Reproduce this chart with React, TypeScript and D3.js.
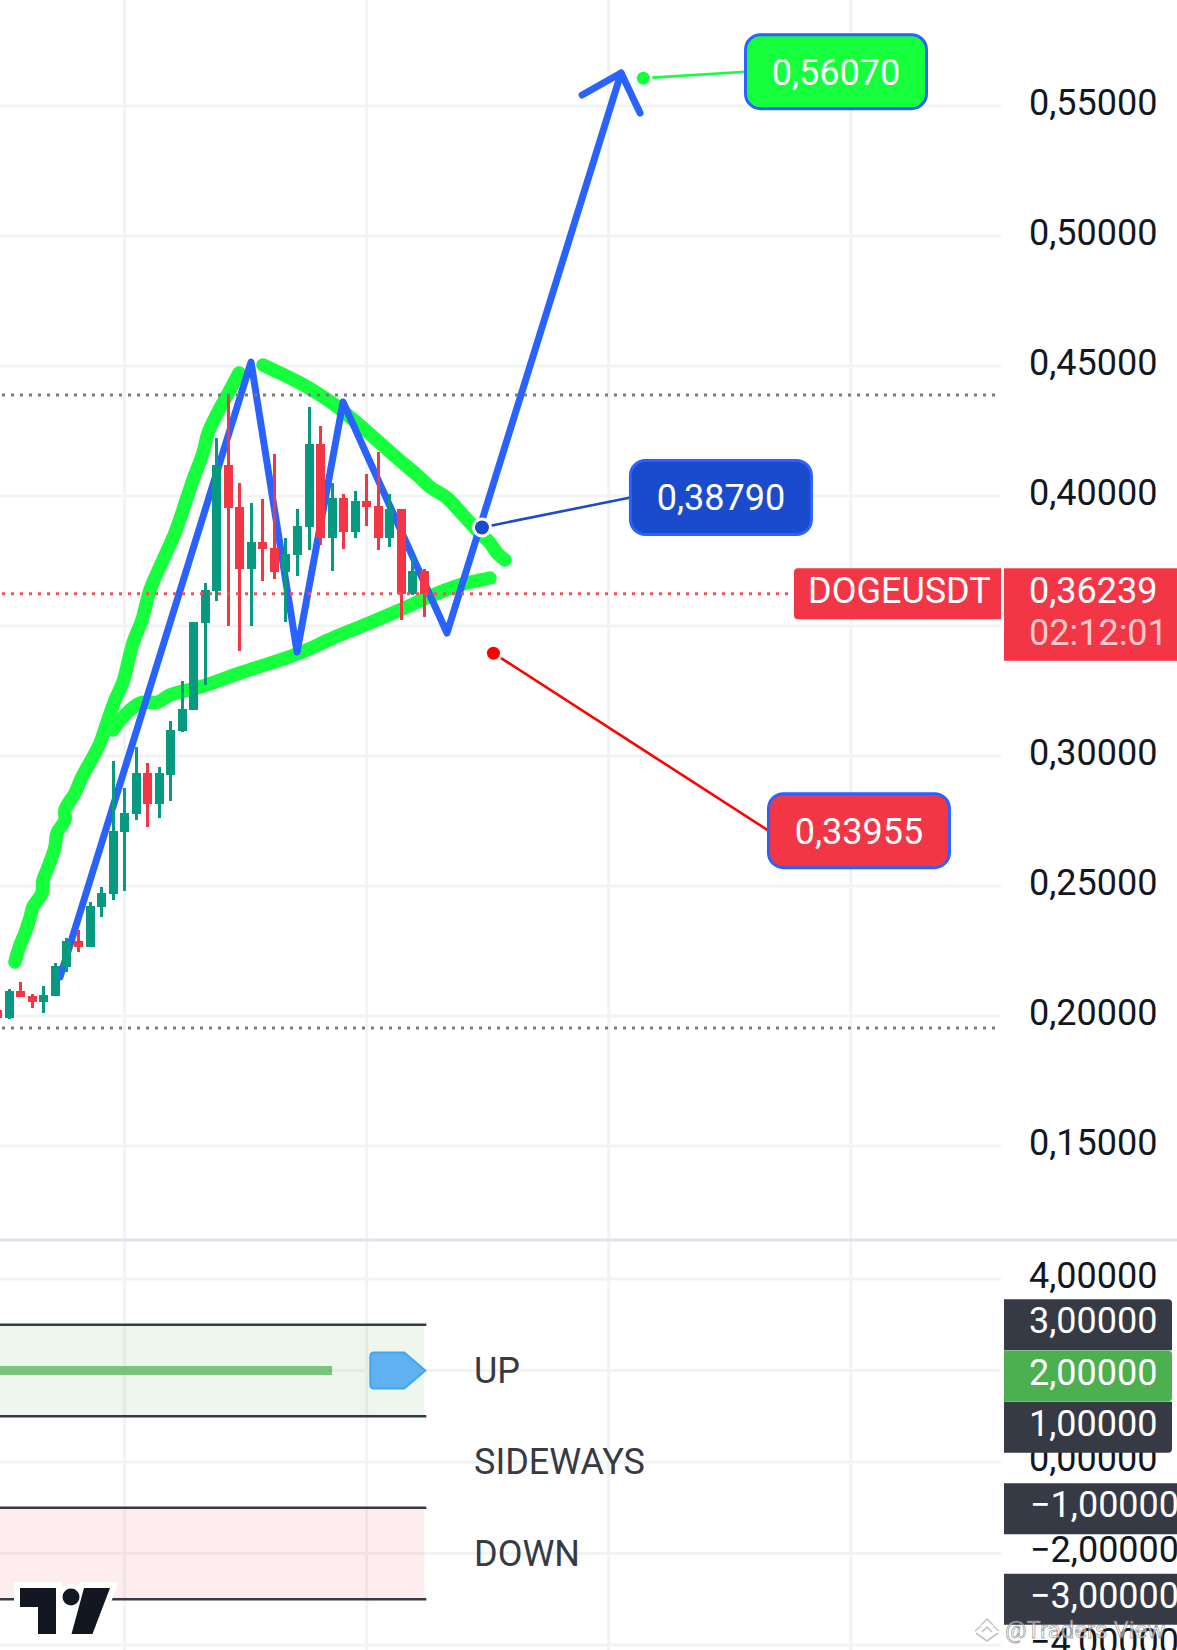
// DOGEUSDT chart with hand drawn triangle, zigzag forecast and trend pane
import * as d3 from "d3";

const opens = [0.20231, 0.19923, 0.20962, 0.20769, 0.20538, 0.20769, 0.21885, 0.22885, 0.22654, 0.24192, 0.24692, 0.27077, 0.27769, 0.29346, 0.28154, 0.29269, 0.30962, 0.31769, 0.35115, 0.36346, 0.41192, 0.39577, 0.37192, 0.38231, 0.38, 0.37077, 0.37731, 0.38808, 0.42, 0.38385, 0.39923, 0.38615, 0.39808, 0.39615, 0.38385, 0.395, 0.36231, 0.37115];
const highs = [0.20231, 0.21038, 0.21308, 0.20846, 0.21154, 0.22038, 0.23, 0.23308, 0.24385, 0.24962, 0.29808, 0.28769, 0.30346, 0.29731, 0.29577, 0.31346, 0.32885, 0.35154, 0.36654, 0.42231, 0.43885, 0.405, 0.39731, 0.39885, 0.41615, 0.38385, 0.395, 0.43423, 0.42692, 0.405, 0.40077, 0.40192, 0.40846, 0.41692, 0.40077, 0.395, 0.37692, 0.37192];
const lows = [0.19923, 0.19885, 0.20731, 0.20308, 0.20115, 0.20769, 0.21692, 0.22462, 0.22654, 0.23808, 0.24462, 0.24808, 0.27538, 0.27269, 0.27615, 0.28269, 0.30923, 0.31769, 0.32731, 0.35962, 0.35, 0.34038, 0.35, 0.36731, 0.36808, 0.35154, 0.36923, 0.37923, 0.38115, 0.37115, 0.37962, 0.38385, 0.38846, 0.37923, 0.38038, 0.35231, 0.36192, 0.35346];
const closes = [0.19923, 0.20962, 0.20731, 0.20538, 0.20808, 0.21923, 0.22885, 0.22654, 0.24231, 0.24731, 0.27115, 0.27808, 0.29346, 0.28154, 0.29346, 0.31, 0.31808, 0.35154, 0.36385, 0.41192, 0.39538, 0.37192, 0.38231, 0.37962, 0.37077, 0.37769, 0.38846, 0.42, 0.38385, 0.39923, 0.38615, 0.39808, 0.39577, 0.38385, 0.395, 0.36231, 0.37115, 0.36231];

const priceTicks = [0.55, 0.5, 0.45, 0.4, 0.35, 0.3, 0.25, 0.2, 0.15];
const trendTicks = [4, 0, -2, -4];
const trendGrid = [4, 2, 0, -2, -4];
const gridBars = [11, 32, 53, 74];
const lastPrice = 0.36239;
const dottedLevels = [0.43885, 0.19538];

// hand drawn overlays as [bar, price]
const greenRise: [number, number][] = [[1.49, 0.22077], [1.87, 0.22654], [2.36, 0.23192], [2.79, 0.23769], [3.05, 0.24192], [3.83, 0.24731], [3.92, 0.25231], [4.27, 0.25615], [4.96, 0.265], [5.14, 0.27038], [5.83, 0.27538], [5.83, 0.27923], [6.7, 0.28577], [7.3, 0.29192], [8.26, 0.29962], [8.87, 0.305], [9.47, 0.31269], [10.17, 0.32154], [10.86, 0.32846], [11.73, 0.34346], [12.51, 0.35231], [13.2, 0.36385], [14.33, 0.37538], [15.37, 0.38577], [15.98, 0.39346], [16.93, 0.40615], [17.8, 0.41654], [18.24, 0.42423], [19.1, 0.43231], [20.14, 0.44077], [20.93, 0.44731]];
const greenSupport: [number, number][] = [[9.99, 0.31], [10.86, 0.315], [12.34, 0.32038], [13.9, 0.32077], [14.94, 0.32346], [17.54, 0.32654], [21.01, 0.33192], [25.96, 0.33923], [29.08, 0.34538], [32.03, 0.35077], [34.89, 0.35615], [37.76, 0.36192], [40.1, 0.36577], [42.7, 0.36846]];
const greenResistance: [number, number][] = [[23.01, 0.45038], [24.48, 0.44731], [26.22, 0.44346], [27.69, 0.43962], [29.25, 0.435], [30.55, 0.43038], [31.68, 0.42615], [33.16, 0.42038], [34.63, 0.41462], [36.37, 0.40808], [37.5, 0.40346], [38.97, 0.39923], [40.36, 0.39269], [41.57, 0.38692], [42.7, 0.38192], [43.31, 0.37808], [44, 0.37538]];
const blueZigzag: [number, number][] = [[5.4, 0.215], [21.97, 0.45154], [25.96, 0.34], [29.95, 0.43615], [38.97, 0.34731], [54.07, 0.56269]];
const blueArrowHead: [number, number][] = [[50.69, 0.55423], [54.07, 0.56269], [55.72, 0.54731]];

const targetBars = [56, 42, 43];
const targetPrices = [0.5607, 0.3879, 0.33955];
const targetColors = ["#16ff3d", "#1a4bcc", "#f23645"];
const targetLines = ["#16ff3d", "#1a4bcc", "#ff0000"];

const trendTags = [3, 2, 1, -1, -3];
const trendTagColors = ["#363a45", "#4caf50", "#363a45", "#363a45", "#363a45"];
const trendTagShift = [0, 5.5, 11, 1, 0];
const trendLabels = ["UP", "SIDEWAYS", "DOWN"];
const trendLabelLevels = [2, 0, -2];
const trendValueEndBar = 29;

const WIDTH = 1177;
const HEIGHT = 1650;
const GRID_RIGHT = 1001;
const AXIS_X = 1029;
const FONT = "Roboto, sans-serif";
const FONT_SIZE = 36;
const BLUE = "#2962ff";
const UP = "#089981";
const DOWN = "#f23645";

const x = d3.scaleLinear().domain([0, 37]).range([-2.2, 424.3]);
const y = d3.scaleLinear().domain([0.15, 0.55]).range([1146, 106]);
const ySub = d3.scaleLinear().domain([-4, 4]).range([1645, 1279]);

const locale = d3.formatLocale({ decimal: ",", thousands: ".", grouping: [3], currency: ["", ""], minus: "\u2212" });
const fmt = locale.format(".5f");

const line = d3.line<[number, number]>().x((d) => x(d[0])).y((d) => y(d[1]));
const curve = d3.line<[number, number]>().x((d) => x(d[0])).y((d) => y(d[1])).curve(d3.curveCatmullRom);

// label box positions relative to the target dot
const labelOffsets = [[102.2, -43.5], [148.5, -67], [275, 140.5]];
const LABEL_W = 181;
const LABEL_H = 74;

function tagPath(x0: number, y0: number, x1: number, y1: number, rt: number, rb: number) {
  return `M${x0},${y0}H${x1 - rt}Q${x1},${y0} ${x1},${y0 + rt}V${y1 - rb}Q${x1},${y1} ${x1 - rb},${y1}H${x0}Z`;
}

function Grid() {
  return (
    <g stroke="#f2f3f4" strokeWidth={3}>
      {gridBars.map((b) => (
        <line key={b} x1={x(b)} x2={x(b)} y1={0} y2={HEIGHT} />
      ))}
      {priceTicks.map((p) => (
        <line key={p} x1={0} x2={GRID_RIGHT} y1={y(p)} y2={y(p)} />
      ))}
      {trendGrid.map((v) => (
        <line key={v} x1={0} x2={GRID_RIGHT} y1={ySub(v)} y2={ySub(v)} />
      ))}
    </g>
  );
}

function Candles() {
  return (
    <g shapeRendering="crispEdges">
      {opens.map((o, i) => {
        const c = closes[i];
        const color = c >= o ? UP : DOWN;
        const top = y(Math.max(o, c));
        const bottom = y(Math.min(o, c));
        return (
          <g key={i} fill={color}>
            <rect x={x(i) - 1.5} width={3} y={y(highs[i])} height={y(lows[i]) - y(highs[i])} />
            <rect x={x(i) - 4.5} width={9} y={top} height={bottom - top} />
          </g>
        );
      })}
    </g>
  );
}

function Drawings() {
  return (
    <g fill="none" strokeLinecap="round" strokeLinejoin="round">
      {[greenRise, greenSupport, greenResistance].map((pts, i) => (
        <path key={i} d={curve(pts) ?? ""} stroke="#16ff3d" strokeWidth={13.5} />
      ))}
      <path d={line(blueZigzag) ?? ""} stroke={BLUE} strokeWidth={7} />
      <path d={line(blueArrowHead) ?? ""} stroke={BLUE} strokeWidth={7} />
    </g>
  );
}

function Targets() {
  return (
    <g fontFamily={FONT} fontSize={FONT_SIZE}>
      {targetPrices.map((p, i) => {
        const cx = x(targetBars[i]);
        const cy = y(p);
        const bx = cx + labelOffsets[i][0];
        const by = cy + labelOffsets[i][1];
        const ey = by + LABEL_H / 2;
        const len = Math.hypot(bx - cx, ey - cy);
        const sx = cx + ((bx - cx) / len) * 9;
        const sy = cy + ((ey - cy) / len) * 9;
        return (
          <g key={i}>
            <line x1={sx} y1={sy} x2={bx} y2={ey} stroke={targetLines[i]} strokeWidth={2.6} />
            {i === 1 && <circle cx={cx} cy={cy} r={10} fill="#fff" />}
            <circle cx={cx} cy={cy} r={i === 1 ? 7 : 6.5} fill={targetLines[i]} />
            <rect x={bx} y={by} width={LABEL_W} height={LABEL_H} rx={15} fill={targetColors[i]} stroke={BLUE} strokeWidth={3} />
            <text x={bx + LABEL_W / 2} y={ey + 13} textAnchor="middle" fill="#fff">
              {fmt(p)}
            </text>
          </g>
        );
      })}
    </g>
  );
}

function PriceAxis() {
  const py = y(lastPrice);
  return (
    <g fontFamily={FONT} fontSize={FONT_SIZE}>
      {priceTicks.map((p) => (
        <text key={p} x={AXIS_X} y={y(p) + 8.5} fill="#131722">
          {fmt(p)}
        </text>
      ))}
      <path d={`M1001,${py - 25.5}H798Q794,${py - 25.5} 794,${py - 21.5}V${py + 21.5}Q794,${py + 25.5} 798,${py + 25.5}H1001Z`} fill={DOWN} />
      <text x={808} y={py + 9.5} fill="#fff">DOGEUSDT</text>
      <rect x={1004} y={py - 25.5} width={WIDTH - 1004} height={92.5} fill={DOWN} />
      <text x={AXIS_X} y={py + 9.5} fill="#fff">{fmt(lastPrice)}</text>
      <text x={AXIS_X} y={py + 51} fill="#fbc9ce">02:12:01</text>
    </g>
  );
}

function TrendPane() {
  const left = 0;
  const right = x(37);
  return (
    <g>
      <rect x={left} y={ySub(3)} width={right - left} height={ySub(1) - ySub(3)} fill="rgba(76,175,80,0.1)" />
      <rect x={left} y={ySub(-1)} width={right - left} height={ySub(-3) - ySub(-1)} fill="rgba(242,54,69,0.09)" />
      {[3, 1, -1, -3].map((v) => (
        <line key={v} x1={left} x2={right + 2} y1={ySub(v)} y2={ySub(v)} stroke="#363a45" strokeWidth={2.6} />
      ))}
      <line x1={left} x2={x(trendValueEndBar)} y1={ySub(2)} y2={ySub(2)} stroke="rgba(76,175,80,0.7)" strokeWidth={9} />
      <path
        d={`M${right - 50},${ySub(2) - 18}H${right - 20}L${right + 1},${ySub(2)}L${right - 20},${ySub(2) + 18}H${right - 50}Q${right - 54},${ySub(2) + 18} ${right - 54},${ySub(2) + 14}V${ySub(2) - 14}Q${right - 54},${ySub(2) - 18} ${right - 50},${ySub(2) - 18}Z`}
        fill="#5eb2f0"
        stroke="#42a5f5"
        strokeWidth={2}
      />
      <g fontFamily={FONT} fontSize={FONT_SIZE} fill="#363a45">
        {trendLabels.map((t, i) => (
          <text key={t} x={474} y={ySub(trendLabelLevels[i]) + 12} fill="#363a45">
            {t}
          </text>
        ))}
      </g>
      <g fontFamily={FONT} fontSize={FONT_SIZE}>
        {trendTicks.map((v) => (
          <text key={v} x={v < 0 ? 1030 : AXIS_X} y={ySub(v) + 8.5} fill="#131722">
            {fmt(v)}
          </text>
        ))}
        {trendTags.map((v, i) => {
          const top = ySub(v) - 25.5 + trendTagShift[i];
          const right2 = v < 0 ? WIDTH + 5 : 1172;
          const rt = v === 3 || v === 2 ? 4 : 0;
          const rb = v === 2 || v === 1 ? 4 : 0;
          return (
            <g key={v}>
              <path d={tagPath(1004, top, right2, top + 51, rt, rb)} fill={trendTagColors[i]} />
              <text x={v < 0 ? 1030 : AXIS_X} y={top + 34} fill="#fff">
                {fmt(v)}
              </text>
            </g>
          );
        })}
      </g>
    </g>
  );
}

function Logo() {
  const d = "M20,1588H56V1634H38V1607H20Z M84,1588H110L92.5,1634H71.5Z";
  return (
    <g>
      <path d={d} fill="#fff" stroke="#fff" strokeWidth={12} />
      <circle cx={71} cy={1597} r={13} fill="#fff" />
      <path d={d} fill="#131722" />
      <circle cx={71} cy={1597} r={8.5} fill="#131722" />
    </g>
  );
}

function Watermark() {
  return (
    <g>
      <g fill="none" stroke="#c4c4c4" strokeWidth={1.6} strokeLinejoin="round">
        <path d="M981,1625L987,1619L993,1625M975,1631L981,1626M999,1631L993,1626M982,1632L987,1627L992,1632M976,1633L987,1641L998,1633" />
      </g>
      <text x={1005} y={1638} fontFamily={FONT} fontSize={24} fill="rgba(255,255,255,0.6)" stroke="rgba(110,110,110,0.65)" strokeWidth={0.8}>
        @Traders View
      </text>
    </g>
  );
}

export default function App() {
  return (
    <svg
      width={WIDTH}
      height={HEIGHT}
      viewBox={`0 0 ${WIDTH} ${HEIGHT}`}
      style={{ position: "absolute", left: 0, top: 0, background: "#fff", display: "block" }}
    >
      <Grid />
      <line x1={0} x2={WIDTH} y1={1240} y2={1240} stroke="#e0e3eb" strokeWidth={3} />
      <Drawings />
      <Candles />
      <g strokeWidth={3} strokeDasharray="3 6">
        {dottedLevels.map((p) => (
          <line key={p} x1={2} x2={996} y1={y(p)} y2={y(p)} stroke="#787b86" />
        ))}
        <line x1={2} x2={1000} y1={y(lastPrice)} y2={y(lastPrice)} stroke="#fb4d5e" />
      </g>
      <Targets />
      <PriceAxis />
      <TrendPane />
      <Logo />
      <Watermark />
    </svg>
  );
}
